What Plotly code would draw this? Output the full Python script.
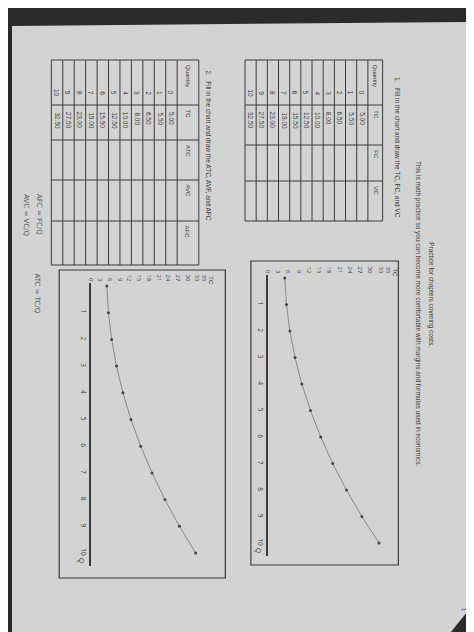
import plotly.graph_objects as go

quantity = [0, 1, 2, 3, 4, 5, 6, 7, 8, 9, 10]
tc = [5.00, 5.50, 6.50, 8.00, 10.00, 12.50, 15.50, 19.00, 23.00, 27.50, 32.50]
tc_ticks = [0, 3, 6, 9, 12, 15, 18, 21, 24, 27, 30, 33, 35]
q_ticks = [1, 2, 3, 4, 5, 6, 7, 8, 9, 10]
table1_headers = ["Quantity", "TC", "FC", "VC"]
table2_headers = ["Quantity", "TC", "ATC", "AVC", "AFC"]

W, H = 474, 632
def X(px): return px / W
def Y(py): return 1 - py / H

INK = "#3a3a3a"
shapes, ann = [], []

shapes.append(dict(type="path", xref="paper", yref="paper", layer="below",
    path=f"M {X(0)},{Y(18)} L {X(462)},{Y(14)} L {X(466)},{Y(600)} L {X(440)},{Y(632)} L {X(0)},{Y(632)} Z",
    fillcolor="#d3d3d3", line=dict(width=0)))

def line(x0, y0, x1, y1, w=1, c=INK):
    shapes.append(dict(type="line", xref="paper", yref="paper",
                       x0=X(x0), y0=Y(y0), x1=X(x1), y1=Y(y1), line=dict(color=c, width=w)))

def text(x, y, s, size=7, xa="center", ya="top", color=INK, family="Liberation Sans"):
    ann.append(dict(x=X(x), y=Y(y), xref="paper", yref="paper", text=s, showarrow=False,
                    textangle=90, xanchor=xa, yanchor=ya, font=dict(size=size, color=color, family=family)))

def table(x_left, x_right, header_w, cols, headers):
    nrows = len(quantity)
    rh = (x_right - header_w - x_left) / nrows
    top, bot = cols[0], cols[-1]
    line(x_left, top, x_left, bot)
    line(x_right, top, x_right, bot)
    line(x_right - header_w, top, x_right - header_w, bot)
    for i in range(1, nrows):
        xx = x_right - header_w - i * rh
        line(xx, top, xx, bot)
    for c in cols:
        line(x_left, c, x_right, c)
    for j, h in enumerate(headers):
        text(x_right - header_w / 2, cols[j] + 3, h, size=6)
    for i in range(nrows):
        xc = x_right - header_w - (i + 0.5) * rh
        text(xc, cols[0] + 33, str(quantity[i]), size=6.5, ya="middle")
        text(xc, cols[1] + 5, f"{tc[i]:.2f}", size=6.5)

table(237, 377, 15, [52, 97, 137, 173, 213], table1_headers)
table(40, 190, 22, [52, 97, 132, 172, 213, 257], table2_headers)

text(426, 287, "Practice for chapters covering costs.", size=6.5, ya="middle")
text(413, 305, "This is math practice so you can become more comfortable with margins and formulas used in economics.", size=6.5, ya="middle")
text(392, 67, "1.&nbsp;&nbsp;&nbsp;Fill in the chart and draw the TC, FC, and VC", size=6.5)
text(200, 60, "2.&nbsp;&nbsp;&nbsp;Fill in the chart and draw the ATC, AVF, and AFC", size=6.5)
text(28, 184, "AFC = FC/Q", size=7, color="#555", family="DejaVu Sans")
text(14, 184, "AVC = VC/Q", size=7, color="#555", family="DejaVu Sans")
text(25, 263, "ATC = TC/Q", size=7, color="#555", family="DejaVu Sans")
text(460, 598, "1", size=6)

for (x0, y0, x1, y1) in [(243, 253, 393, 557), (48, 262, 217, 570)]:
    shapes.append(dict(type="rect", xref="paper", yref="paper", x0=X(x0), y0=Y(y0), x1=X(x1), y1=Y(y1),
                       line=dict(color=INK, width=1.2), fillcolor="rgba(0,0,0,0)"))

fig = go.Figure()
charts = [dict(xd=(260, 382), q0=270, unit=26.5, ax="x", ay="y"),
          dict(xd=(80, 195), q0=278, unit=26.7, ax="x2", ay="y2")]
for k, c in enumerate(charts):
    fig.add_trace(go.Scatter(x=tc, y=quantity, mode="lines+markers", xaxis=c["ax"], yaxis=c["ay"],
                             line=dict(color="#888", width=1), marker=dict(size=3, color="#444"),
                             showlegend=False, hoverinfo="skip"))
    ymin, ymax = -0.1, 10.5
    ytop = c["q0"] + ymin * c["unit"]
    ybot = c["q0"] + ymax * c["unit"]
    sfx = "" if k == 0 else "2"
    fig.layout["xaxis" + sfx] = dict(domain=[X(c["xd"][0]), X(c["xd"][1])], range=[0, 35], side="top",
        tickvals=tc_ticks, tickangle=90, tickfont=dict(size=6, color=INK), showgrid=False, zeroline=False,
        showline=False, ticks="", anchor="y" + sfx)
    fig.layout["yaxis" + sfx] = dict(domain=[Y(ybot), Y(ytop)], range=[ymax, ymin], tickvals=q_ticks,
        tickangle=90, tickfont=dict(size=6.5, color=INK), showgrid=False, zeroline=False,
        showline=True, linecolor=INK, linewidth=1.5, ticks="", anchor="x" + sfx)
    text(c["xd"][1] + 8, ytop - 9, "TC", size=6)
    text(c["xd"][0] - 10, ybot - 10, "Q", size=6.5)

fig.update_layout(width=W, height=H, margin=dict(l=0, r=0, t=0, b=0),
                  paper_bgcolor="#2b2b2b", plot_bgcolor="rgba(0,0,0,0)",
                  shapes=shapes, annotations=ann)
fig.write_html("out.html")
